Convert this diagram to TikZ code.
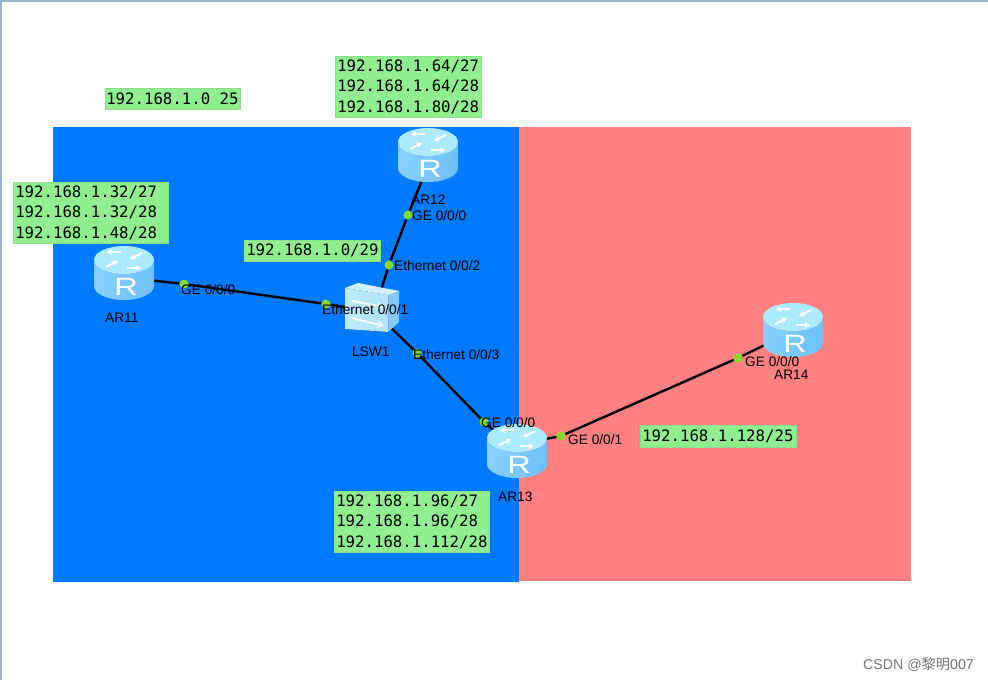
\documentclass[tikz,border=0pt]{standalone}
\usepackage{fontspec}
\setmainfont{Liberation Sans}
\newfontfamily\boxmono{DejaVu Sans Mono}
\newfontfamily\cjkfont{Noto Sans CJK SC}
\usetikzlibrary{arrows.meta}
\definecolor{zoneblue}{RGB}{0,122,255}
\definecolor{zonered}{RGB}{255,128,128}
\definecolor{boxgreen}{RGB}{144,238,144}
\definecolor{portgreen}{RGB}{135,215,45}
\definecolor{framecol}{RGB}{155,180,208}
\definecolor{bodyl}{RGB}{135,208,252}
\definecolor{bodym}{RGB}{190,235,255}
\definecolor{bodyr}{RGB}{112,192,248}
\definecolor{topc}{RGB}{172,234,255}
\pgfdeclarelayer{under}
\pgfsetlayers{under,main}
\tikzset{
  x=1pt,y=-1pt,
  link/.style={line width=2.4pt,black},
  port/.style={circle,fill=portgreen,inner sep=0pt,minimum size=9pt},
  lbl/.style={font=\fontsize{13.7}{15}\selectfont,text=black,inner sep=0pt,anchor=west},
  netbox/.style={fill=boxgreen,draw=boxgreen!85!gray,line width=.5pt,inner sep=0pt,anchor=north west,align=left,
     font=\boxmono\fontsize{15.7}{20.2}\selectfont},
  routerpic/.pic={
    \path[left color=bodyl,middle color=bodym,right color=bodyr]
      (-30,-13) -- (-30,13) arc[start angle=180,end angle=360,x radius=30,y radius=-14] -- (30,-13)
      arc[start angle=0,end angle=180,x radius=30,y radius=14] -- cycle;
    \fill[topc] (0,-13) ellipse[x radius=30,y radius=14];
    \begin{scope}[white,line width=2pt,-{Stealth[length=5.5pt,width=6.5pt]}]
      \draw (-18,-6) -- (-6,-12);
      \draw (-3,-21) -- (-17,-21);
      \draw (18,-20) -- (6,-14);
      \draw (3,-5) -- (17,-5);
    \end{scope}
    \node[text=white,inner sep=0pt,xscale=1.3,font=\fontsize{25}{25}\selectfont] at (2,14) {R};
  },
  switchpic/.pic={
    \fill[bodyr!85!white] (388,295) -- (399,291) -- (399,322) -- (388,332) -- cycle;
    \fill[left color=bodym,right color=bodym!80!bodyr] (345,288) -- (388,295) -- (388,332) -- (345,329) -- cycle;
    \fill[bodym!70!white] (345,288) -- (358,283) -- (399,291) -- (388,295) -- cycle;
    \begin{scope}[white,line width=1.8pt,-{Stealth[length=7pt,width=8pt]}]
      \draw (352,301) -- (384,307);
      \draw (352,318) -- (384,326);
    \end{scope}
  }
}
\begin{document}
\begin{tikzpicture}
\useasboundingbox (0,0) rectangle (988,680);

% connection points hidden under the devices
\coordinate (ar11) at (148,280);
\coordinate (ar12) at (426,170);
\coordinate (ar13a) at (505,440);
\coordinate (ar13b) at (535,441);
\coordinate (ar14) at (775,340);
\coordinate (swl) at (365,310);
\coordinate (swt) at (378,300);
\coordinate (swb) at (385,322);

\node[port] (p11) at (184,284) {};
\node[port] (p1s) at (326,304) {};
\node[port] (p12) at (408,215) {};
\node[port] (p2s) at (389,265) {};
\node[port] (p3s) at (417,353) {};
\node[port] (p13) at (484,422) {};
\node[port] (p13b) at (561,436) {};
\node[port] (p14) at (738,358) {};

\begin{pgfonlayer}{under}
\fill[white] (0,0) rectangle (988,680);
\fill[framecol] (0,0) rectangle (988,2);
\fill[framecol] (0,0) rectangle (2,680);
\fill[zoneblue] (53,127) rectangle (519,582);
\fill[zonered] (519,127) rectangle (911,581);
\draw[link] (ar11) -- (p11) -- (p1s) -- (swl);
\draw[link] (ar12) -- (p12) -- (p2s) -- (swt);
\draw[link] (swb) -- (p3s) -- (p13) -- (ar13a);
\draw[link] (ar13b) -- (p13b) -- (p14) -- (ar14);
\end{pgfonlayer}

\pic at (124,273) {routerpic};
\pic at (428,155) {routerpic};
\pic at (517,451) {routerpic};
\pic at (793,330) {routerpic};
\pic at (0,0) {switchpic};

\node[lbl] (l1) at (181,289.5) {GE 0/0/0};
\node[lbl] (l2) at (412,216) {GE 0/0/0};
\node[lbl] (l3) at (394,266) {Ethernet 0/0/2};
\node[lbl] (l4) at (322,310) {Ethernet 0/0/1};
\node[lbl] (l5) at (413,355) {Ethernet 0/0/3};
\node[lbl] (l6) at (481,423) {GE 0/0/0};
\node[lbl] (l7) at (568,440) {GE 0/0/1};
\node[lbl] (l8) at (745,362) {GE 0/0/0};
\node[lbl] (n1) at (105,318) {AR11};
\node[lbl] (n2) at (411,200) {AR12};
\node[lbl] (n3) at (352,352) {LSW1};
\node[lbl] (n4) at (498,497) {AR13};
\node[lbl] (n5) at (774,375) {AR14};

\node[netbox,text width=135pt,minimum height=21pt] (b1) at (105,88) {\hspace*{1pt}192.168.1.0\hspace*{9.5pt}25};
\node[netbox,text width=146pt,minimum height=61pt] (b2) at (335,56) {\hspace*{2pt}192.168.1.64/27\\\hspace*{2pt}192.168.1.64/28\\\hspace*{2pt}192.168.1.80/28};
\node[netbox,text width=155pt,minimum height=61pt] (b3) at (13,182) {\hspace*{2pt}192.168.1.32/27\\\hspace*{2pt}192.168.1.32/28\\\hspace*{2pt}192.168.1.48/28};
\node[netbox,text width=136pt,minimum height=21pt] (b4) at (244,240) {\hspace*{2pt}192.168.1.0/29};
\node[netbox,text width=156pt,minimum height=22pt] (b5) at (640,425) {\hspace*{2pt}192.168.1.128/25};
\node[netbox,text width=155pt,minimum height=61pt] (b6) at (334,491) {\hspace*{2pt}192.168.1.96/27\\\hspace*{2pt}192.168.1.96/28\\\hspace*{2pt}192.168.1.112/28};

\node[inner sep=0pt,anchor=east,text=black!55,font=\fontsize{14.2}{15}\selectfont] (wm) at (974,664) {CSDN @{\cjkfont 黎明}007};
\end{tikzpicture}
\end{document}
